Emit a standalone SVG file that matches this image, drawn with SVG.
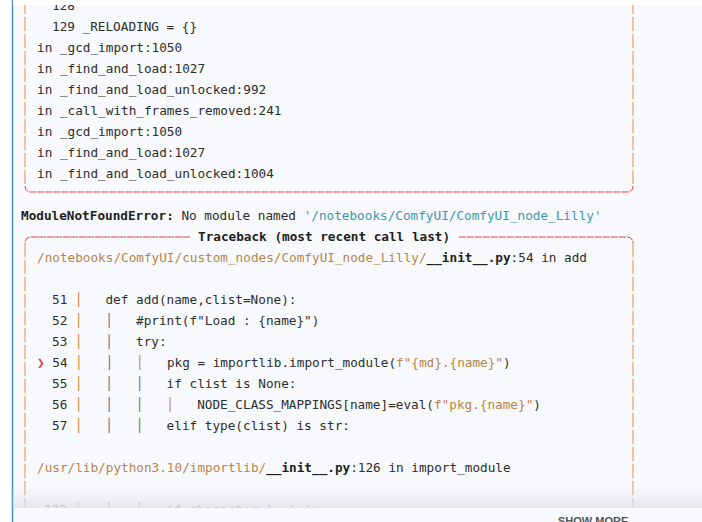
<svg xmlns="http://www.w3.org/2000/svg" width="702" height="522" viewBox="0 0 702 522">
<defs>
<style>
text{font-family:"DejaVu Sans Mono","Liberation Mono",monospace;font-size:12.7px;fill:#2e2e2e;white-space:pre}
.p{fill:#b8864b}.b{font-weight:bold;fill:#1e1e1e}.c{fill:#3a98b0}.r{fill:#e23b3b}.s{fill:#b98446}.g{fill:#c7872e}.i{fill:#5a6a8a}
.vo{stroke:#f0a060;stroke-width:1.2;stroke-dasharray:14 3;fill:none}
.hr{stroke:#e8404a;stroke-width:1;stroke-dasharray:7 1;fill:none}
</style>
<linearGradient id="fade" x1="0" y1="0" x2="0" y2="1"><stop offset="0" stop-color="#e4e6ea" stop-opacity="0"/><stop offset="1" stop-color="#e2e4e8" stop-opacity="0.9"/></linearGradient>
<clipPath id="pc"><rect x="13" y="5" width="689" height="503"/></clipPath>
</defs>
<rect width="702" height="522" fill="#ffffff"/>
<rect x="13" y="5" width="689" height="517" fill="#f7f9fc"/>
<line x1="12.5" y1="0" x2="12.5" y2="522" stroke="#4a8ee0" stroke-width="1.5"/>
<g clip-path="url(#pc)">
<path class="vo" d="M25 0V186"/>
<path class="hr" d="M25 186Q25 192 31 192H627Q633 192 633 186"/>
<path class="vo" d="M633 0V186"/>
<text x="52" y="10">128</text>
<text x="52" y="31">129 _RELOADING = {}</text>
<text x="37" y="52">in _gcd_import:1050</text>
<text x="37" y="73">in _find_and_load:1027</text>
<text x="37" y="94">in _find_and_load_unlocked:992</text>
<text x="37" y="115">in _call_with_frames_removed:241</text>
<text x="37" y="136">in _gcd_import:1050</text>
<text x="37" y="157">in _find_and_load:1027</text>
<text x="37" y="178">in _find_and_load_unlocked:1004</text>
<text x="21" y="220"><tspan class="b">ModuleNotFoundError:</tspan> No module named <tspan class="c">'/notebooks/ComfyUI/ComfyUI_node_Lilly'</tspan></text>
<path class="hr" d="M190 237H31Q25 237 25 243"/>
<path class="hr" d="M459 237H627Q633 237 633 243"/>
<path class="vo" d="M25 243V522"/>
<path class="vo" d="M633 243V522"/>
<text x="198" y="241" class="b">Traceback (most recent call last)</text>
<text x="37" y="262"><tspan class="p">/notebooks/ComfyUI/custom_nodes/ComfyUI_node_Lilly/</tspan><tspan class="b">__init__.py</tspan>:54 in add</text>
<text x="52" y="304">51 <tspan class="g">│</tspan>   def add(name,clist=None):</text>
<text x="52" y="325">52 <tspan class="g">│</tspan>   <tspan class="i">│</tspan>   #print(f"Load : {name}")</text>
<text x="52" y="346">53 <tspan class="g">│</tspan>   <tspan class="i">│</tspan>   try:</text>
<text x="37" y="367"><tspan class="r">❯</tspan> 54 <tspan class="g">│</tspan>   <tspan class="i">│</tspan>   <tspan class="g">│</tspan>   pkg = importlib.import_module(<tspan class="s">f"{md}.{name}"</tspan>)</text>
<text x="52" y="388">55 <tspan class="g">│</tspan>   <tspan class="i">│</tspan>   <tspan class="i">│</tspan>   if clist is None:</text>
<text x="52" y="409">56 <tspan class="g">│</tspan>   <tspan class="i">│</tspan>   <tspan class="i">│</tspan>   <tspan class="g">│</tspan>   NODE_CLASS_MAPPINGS[name]=eval(<tspan class="s">f"pkg.{name}"</tspan>)</text>
<text x="52" y="430">57 <tspan class="g">│</tspan>   <tspan class="i">│</tspan>   <tspan class="i">│</tspan>   elif type(clist) is str:</text>
<text x="37" y="472"><tspan class="p">/usr/lib/python3.10/importlib/</tspan><tspan class="b">__init__.py</tspan>:126 in import_module</text>
<text x="44" y="514">123 <tspan class="g">│</tspan>   <tspan class="i">│</tspan>   <tspan class="i">│</tspan>   if character != '.':</text>
<rect x="13" y="486" width="689" height="22" fill="url(#fade)"/>
</g>
<rect x="13" y="0" width="689" height="5" fill="#ffffff"/>
<text x="558" y="525" style="font-family:'Liberation Sans',sans-serif;font-size:11px;font-weight:bold;fill:#555">SHOW MORE</text>
</svg>
